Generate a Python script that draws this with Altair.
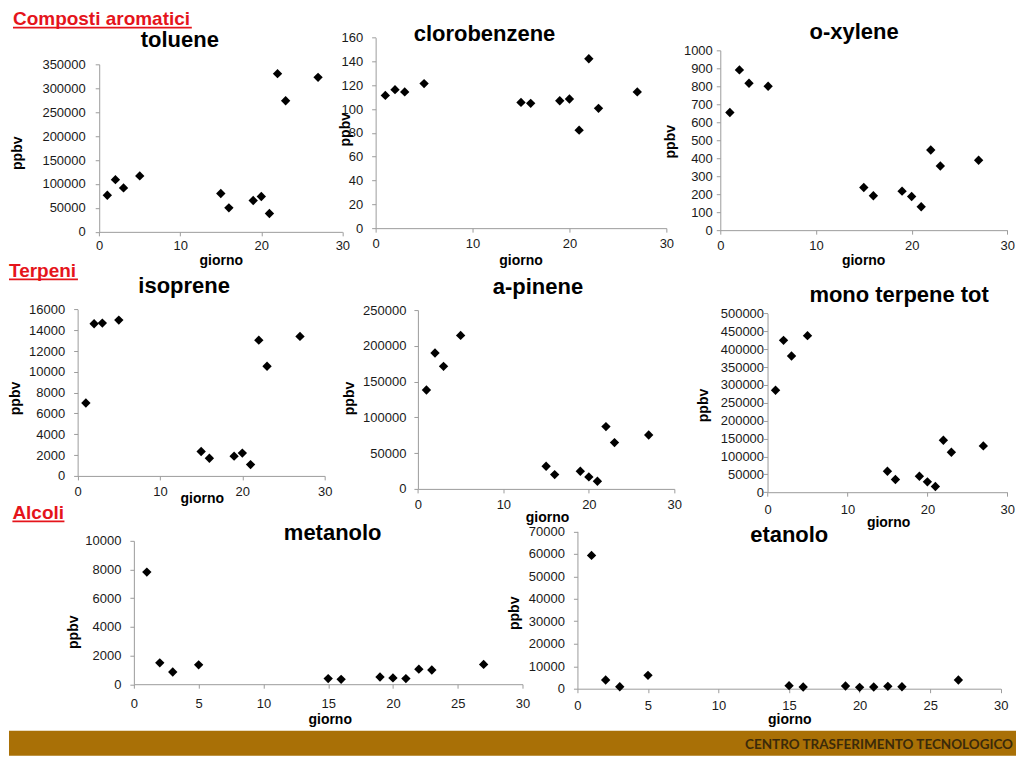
import altair as alt
import pandas as pd

# ---------------- data ----------------
DAYS = [1, 2, 3, 5, 15, 16, 19, 20, 21, 22, 23, 27]

TOLUENE = [76500, 109000, 91800, 116900, 80000, 50100, 65400, 73800, 38300, 330500, 274000, 322800]
CLOROBENZENE = [111.5, 116.3, 114.4, 121.4, 105.6, 104.8, 107.0, 108.5, 82.3, 142.3, 100.6, 114.4]
O_XYLENE = [654, 891, 817, 800, 237, 191, 217, 187, 130, 446, 357, 389]
ISOPRENE = [7000, 14620, 14680, 14970, 2350, 1700, 1900, 2190, 1090, 13040, 10540, 13400]
A_PINENE = [138300, 189900, 171300, 214600, 31700, 20000, 24700, 16800, 10700, 87100, 64700, 75400]
MONO_TERPENE = [284900, 424600, 380800, 437600, 58700, 35400, 44700, 28900, 15800, 145300, 111700, 129400]
METANOLO = [7820, 1490, 850, 1350, 390, 340, 500, 440, 390, 1050, 990, 1380]
ETANOLO = [59300, 3860, 890, 5930, 1340, 740, 1190, 590, 740, 1040, 890, 3860]

SERIES = [TOLUENE, CLOROBENZENE, O_XYLENE, ISOPRENE, A_PINENE, MONO_TERPENE, METANOLO, ETANOLO]
TITLES = ["toluene", "clorobenzene", "o-xylene", "isoprene", "a-pinene",
          "mono terpene tot", "metanolo", "etanolo"]
Y_MAX = [350000, 160, 1000, 16000, 250000, 500000, 10000, 70000]
Y_STEP = [50000, 20, 100, 2000, 50000, 50000, 2000, 10000]
X_STEP = [10, 10, 10, 10, 10, 10, 5, 5]
X_LABEL = "giorno"
Y_LABEL = "ppbv"
SECTIONS = ["Composti aromatici", "Terpeni", "Alcoli"]
FOOTER = "CENTRO TRASFERIMENTO TECNOLOGICO"

# ---------------- layout (pixels inside each grid cell) ----------------
CELL_W = 336
ROW_H = [252, 242, 254]
LAYOUT = [
    dict(x0=90.3, x1=333.7, y0=223.7, y1=56, xoff=-28.3, yoff=-90.3, tdx=171, toff=-60.5,
         ytx=-81.8, yty=144.5, xtx=212, xty=32.3, ylp=10, xlp=3.3),
    dict(x0=31, x1=322, y0=220, y1=29.3, xoff=-32, yoff=-31, tdx=140, toff=-55,
         ytx=-30, yty=121, xtx=176, xty=36, ylp=9, xlp=5),
    dict(x0=40, x1=327.3, y0=222, y1=42, xoff=-30, yoff=-40, tdx=174, toff=-52.5,
         ytx=-50, yty=133, xtx=183, xty=34, ylp=4, xlp=5),
    dict(x0=68.7, x1=316, y0=216, y1=49.3, xoff=-26, yoff=-68.7, tdx=175.3, toff=-55,
         ytx=-61.7, yty=138, xtx=193, xty=27, ylp=9, xlp=5.7),
    dict(x0=73.3, x1=330, y0=229, y1=50, xoff=-13, yoff=-73.3, tdx=193.5, toff=-56,
         ytx=-68.3, yty=138, xtx=202.5, xty=33, ylp=8, xlp=6),
    dict(x0=87.3, x1=327.3, y0=232.3, y1=53.3, xoff=-9.7, yoff=-87.3, tdx=219, toff=-63.7,
         ytx=-64.3, yty=145, xtx=208, xty=34.7, ylp=0, xlp=7.7),
    dict(x0=125, x1=514, y0=182.5, y1=39, xoff=-71.5, yoff=-125, tdx=324, toff=-60,
         ytx=-60, yty=130, xtx=321, xty=39.5, ylp=9, xlp=9.5),
    dict(x0=233, x1=656.7, y0=187, y1=29.5, xoff=-67, yoff=-233, tdx=445, toff=-61.7,
         ytx=-63, yty=111, xtx=445, xty=35, ylp=9, xlp=6.6),
]
SECTION_POS = {0: (0, 4, 16.8, 183), 3: (1, 0, 16.8, 69), 6: (2, 3.4, 17, 55.5)}

FONT = "Liberation Sans"
RED = "#E5141B"


def panel(i):
    L = LAYOUT[i]
    row = i // 3
    df = pd.DataFrame({"giorno": DAYS, "ppbv": SERIES[i]})
    pts = alt.Chart(df).mark_point(
        shape="diamond", filled=True, color="black", size=88, opacity=1
    ).encode(
        x=alt.X("giorno:Q",
                scale=alt.Scale(domain=[0, 30], range=[L["x0"], L["x1"]], nice=False, zero=False),
                axis=alt.Axis(title=X_LABEL, values=list(range(0, 31, X_STEP[i])),
                              offset=L["xoff"], titleX=L["xtx"], titleY=L["xty"],
                              titleBaseline="alphabetic", labelPadding=L["xlp"])),
        y=alt.Y("ppbv:Q",
                scale=alt.Scale(domain=[0, Y_MAX[i]], range=[L["y0"], L["y1"]], nice=False),
                axis=alt.Axis(title=Y_LABEL, values=list(range(0, Y_MAX[i] + 1, Y_STEP[i])),
                              format="d", offset=L["yoff"], titleX=L["ytx"], titleY=L["yty"],
                              titleBaseline="middle", labelPadding=L["ylp"])),
    )
    layers = []
    if i == 6:
        fdf = pd.DataFrame({"label": [FOOTER]})
        layers.append(alt.Chart(fdf).mark_rect(color="#A97006").encode(
            x=alt.value(0), x2=alt.value(1008), y=alt.value(229), y2=alt.value(254)))
        layers.append(alt.Chart(fdf).mark_text(
            font="Lato", fontSize=13.5, fontWeight="bold", color="#3b2a0a",
            align="right", baseline="alphabetic"
        ).encode(x=alt.value(1005), y=alt.value(247), text="label:N"))
    layers.append(pts)
    if i in SECTION_POS:
        k, sx, sy, ex = SECTION_POS[i]
        sdf = pd.DataFrame({"label": [SECTIONS[k]]})
        layers.append(alt.Chart(sdf).mark_text(
            font=FONT, fontSize=19, fontWeight="bold", color=RED, align="left", baseline="alphabetic"
        ).encode(x=alt.value(sx), y=alt.value(sy), text="label:N"))
        layers.append(alt.Chart(sdf).mark_rule(color=RED, strokeWidth=1.6).encode(
            x=alt.value(sx), x2=alt.value(ex), y=alt.value(sy + 2.5)))
    return alt.layer(*layers).properties(
        width=CELL_W, height=ROW_H[row],
        title=alt.TitleParams(TITLES[i], anchor="start", frame="group", align="center",
                              dx=L["tdx"], offset=L["toff"], baseline="alphabetic",
                              font=FONT, fontSize=22, fontWeight="bold", color="black"),
    )


chart = alt.concat(
    *[panel(i) for i in range(8)], columns=3, spacing=0, bounds="flush"
).properties(padding=0).configure_view(stroke=None).configure_axis(
    grid=False, domainColor="#9c9c9c", tickColor="#9c9c9c", tickSize=4,
    labelFont=FONT, labelFontSize=13, labelColor="#1a1a1a",
    titleFont=FONT, titleFontSize=14, titleFontWeight="bold", titleColor="black",
    labelFlush=False, labelOverlap=False,
)

chart.save("out.html", embed_options={"renderer": "svg", "actions": False})
